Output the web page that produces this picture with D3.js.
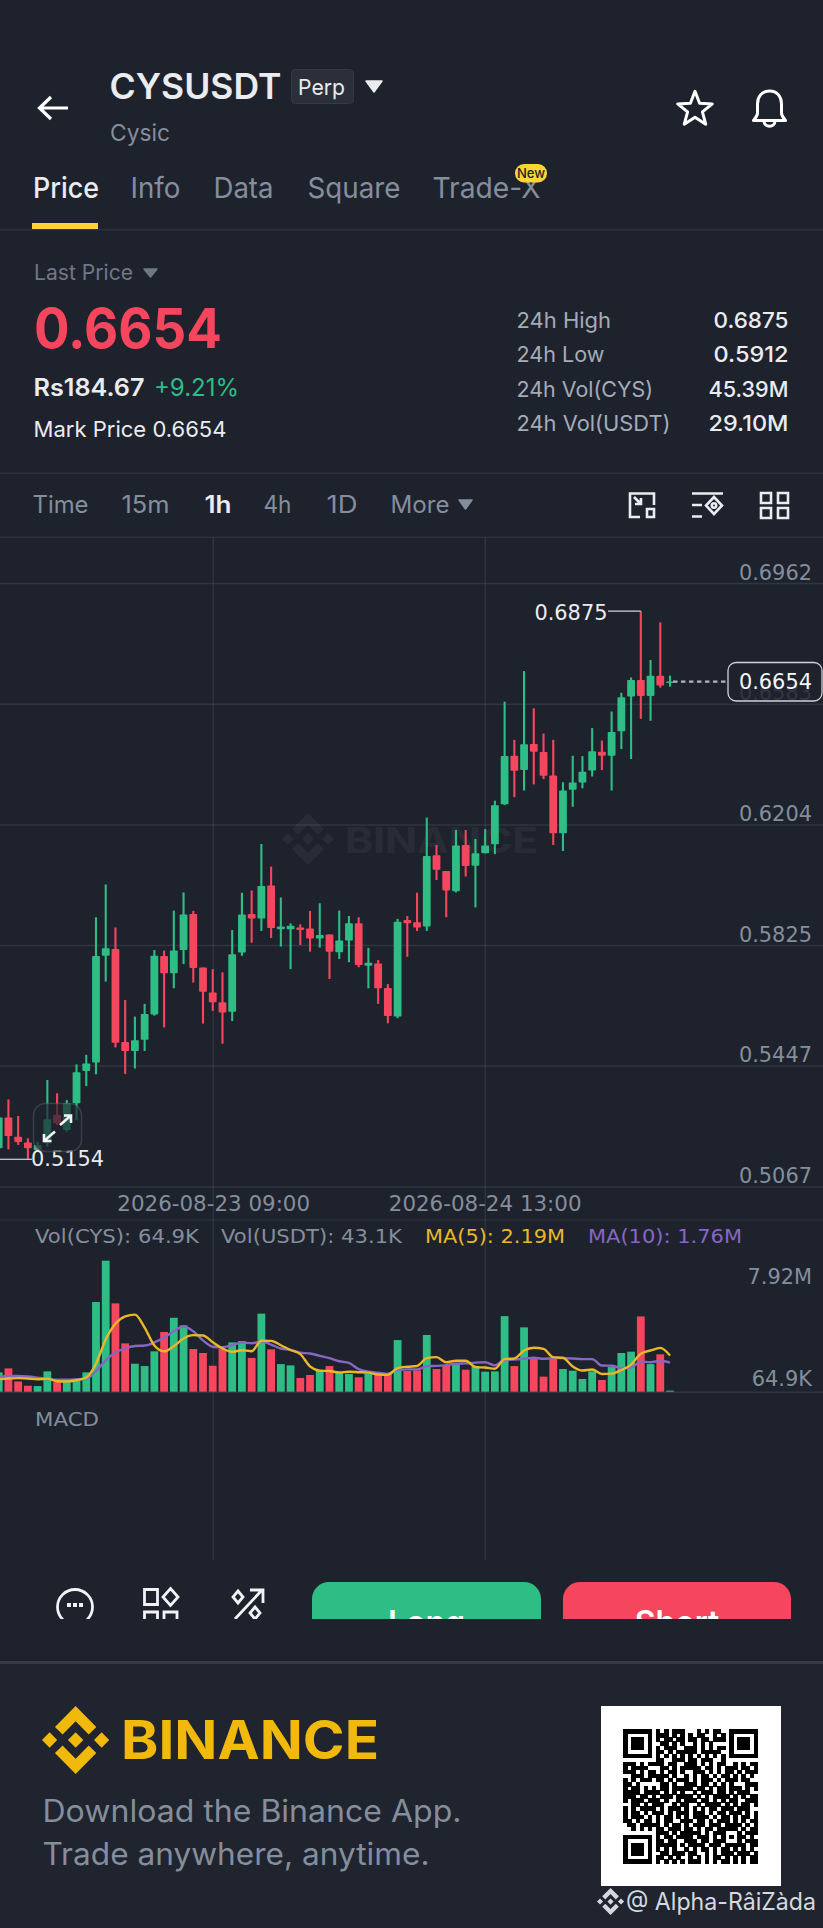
<!DOCTYPE html>
<html><head><meta charset="utf-8">
<script src="https://cdn.jsdelivr.net/npm/d3@7"></script>
<style>html,body{margin:0;padding:0;background:#1e222d;overflow:hidden}svg{display:block}</style>
</head><body><svg id="c" width="823" height="1928" viewBox="0 0 823 1928"></svg>
<script>
const opens=[.5189,.5285,.5225,.5207,.5183,.5204,.5293,.5246,.5330,.5431,.5458,.5793,.5814,.5522,.5494,.5529,.5609,.5792,.5738,.5811,.5924,.5756,.5678,.5647,.5617,.5803,.5924,.5910,.6014,.5876,.5876,.5882,.5879,.5847,.5860,.5804,.5841,.5895,.5762,.5769,.5692,.5602,.5905,.5898,.5885,.6109,.6059,.5996,.6141,.6076,.6115,.6143,.6269,.6421,.6376,.6458,.6433,.6359,.6178,.6314,.6337,.6375,.6434,.6421,.6498,.6607,.6659,.6609,.6672,.6650];
const closes=[.5285,.5227,.5208,.5189,.5199,.5280,.5267,.5330,.5427,.5455,.5792,.5817,.5520,.5494,.5528,.5610,.5793,.5738,.5810,.5923,.5755,.5680,.5647,.5615,.5798,.5923,.5910,.6012,.5880,.5885,.5887,.5874,.5847,.5858,.5806,.5841,.5895,.5764,.5771,.5691,.5604,.5900,.5895,.5882,.6106,.6063,.5998,.6139,.6075,.6115,.6139,.6266,.6420,.6374,.6457,.6434,.6358,.6178,.6312,.6337,.6371,.6435,.6421,.6496,.6605,.6659,.6609,.6672,.6642,.6654];
const highs=[.5319,.5342,.5290,.5220,.5209,.5403,.5361,.5340,.5452,.5482,.5914,.6017,.5882,.5654,.5602,.5642,.5811,.5809,.5935,.5992,.5934,.5756,.5751,.5741,.5874,.5991,.5998,.6144,.6073,.5976,.5895,.5892,.5934,.5958,.5860,.5935,.5918,.5914,.5818,.5780,.5704,.5909,.5918,.5991,.6227,.6141,.6059,.6188,.6188,.6160,.6191,.6280,.6591,.6471,.6687,.6570,.6491,.6471,.6338,.6421,.6420,.6508,.6469,.6560,.6619,.6667,.6875,.6722,.6840,.6673];
const lows=[.5183,.5185,.5199,.5154,.5178,.5194,.5262,.5241,.5277,.5384,.5421,.5712,.5505,.5422,.5439,.5494,.5605,.5568,.5691,.5767,.5709,.5580,.5620,.5517,.5588,.5793,.5834,.5871,.5849,.5822,.5751,.5827,.5806,.5819,.5720,.5783,.5773,.5757,.5691,.5642,.5581,.5597,.5790,.5871,.5871,.6031,.5914,.5992,.6042,.5945,.6115,.6112,.6266,.6291,.6312,.6331,.6348,.6141,.6122,.6261,.6319,.6356,.6376,.6312,.6442,.6411,.6537,.6531,.6635,.6638];
const volumes=[1.17,1.41,.62,.36,.34,1.23,.58,.58,.71,1.17,5.42,7.92,5.34,2.92,1.69,1.55,2.44,3.61,4.47,4.01,2.58,2.34,1.57,2.58,2.98,3.06,2.04,4.72,2.56,1.67,1.59,.83,1.01,1.27,1.55,1.15,1.07,.87,1.09,1.01,1.07,3.12,1.25,1.29,3.43,1.37,1.57,1.67,1.33,1.51,1.21,1.23,4.57,1.55,3.89,2.04,.91,2.06,1.37,1.27,.77,1.23,.71,1.49,2.34,2.42,4.55,1.67,2.26,.065];
const ma5=[.75,.80,.82,.80,.75,.79,.63,.62,.69,.85,1.69,3.16,4.11,4.55,4.66,3.88,2.79,2.44,2.75,3.22,3.42,3.40,2.99,2.62,2.41,2.51,2.45,3.08,3.07,2.81,2.52,2.27,1.53,1.27,1.25,1.16,1.21,1.18,1.15,1.04,1.02,1.43,1.51,1.55,2.03,2.09,1.78,1.87,1.87,1.49,1.46,1.39,1.97,2.01,2.49,2.66,2.59,2.09,2.05,1.53,1.28,1.34,1.07,1.09,1.31,1.64,2.30,2.49,2.65,2.19];
const ma10=[.90,.95,.95,.92,.85,.77,.72,.72,.75,.80,1.24,1.90,2.37,2.62,2.76,2.79,2.98,3.28,3.65,3.94,3.65,3.10,2.72,2.69,2.82,2.97,2.93,3.04,2.85,2.61,2.52,2.36,2.31,2.17,2.03,1.84,1.74,1.36,1.21,1.15,1.09,1.32,1.35,1.35,1.54,1.56,1.61,1.69,1.71,1.76,1.78,1.59,1.92,1.94,1.99,2.06,1.99,2.03,2.03,2.01,1.97,1.97,1.58,1.57,1.42,1.46,1.82,1.78,1.87,1.76];
const priceTicks=[.6962,.6583,.6204,.5825,.5447,.5067];
const timeTicks=[{i:22.1,t:"2026-08-23 09:00"},{i:50,t:"2026-08-24 13:00"}];
const qrRows=[
"#######.#.#.###...#.#.##..#######",
"#.....#.###.#.#.#.##..#.#.#.....#",
"#.###.#.#.##.##.##.##.###.#.###.#",
"#.###.#..##.#.#..#.#.#....#.###.#",
"#.###.#.#.###..###.#.#.##.#.###.#",
"#.....#.##.#.#####.#####..#.....#",
"#######.#.#.#.#.#.#.#.#.#.#######",
"........##..###.##.###..#........",
"###.#.####.##..###.#.#.##..#.#.##",
"#.####...##.#.#####.##.#.###.##.#",
"###.#.##.#.##.#..###.#.#.##.#.###",
"..###.#####.#..#.#.##.#.##.#.#.#.",
"#.#.###.##.#.###.#.###.#.###.##..",
"##.#.....##.#..###.##.#.#.#...###",
"#.##.#.#.##.#####.##.#.##.###.#.#",
"####.####.#.#.#..#.###.##.#.###..",
"###.##.#.###.####.#.#.####.#.#.##",
"#.###.###.#..#.###.##.#.#.##..###",
"..##.#.###..#.##..#.####.#.#.##.#",
"#.#.####.#.###.#.#.#.##.###.###..",
"#.##.#.###.#.###.###.#.##.###.#.#",
"#.###.#.#.##.#.#.####.#.##.#.##.#",
"##.#.##.#.##..###.##.#.###.#.#.##",
".##.#####.#.##.#.###.###.####.#.#",
"..#.#.#.##.###.##.#.##.#####.#.##",
"........###.#.#####.#.###...#.###",
"#######.#.##.####.###.#.#.#.##.#.",
"#.....#.##.##..###.##.###...#.###",
"#.###.#.#####.#.####.###.#####.##",
"#.###.#.#.#.#..#.#.##.#.##.#.#.#.",
"#.###.#..##.###.##..#.#.###.###.#",
"#.....#.##.#.#..#.#.#.##.#.#.#.##",
"#######.#.#.#.#.###.#.#.##.#.#.##"];

const UP="#2EBD85",DOWN="#F6465D",GREY="#848E9C",LIGHT="#EAECEF",YEL="#FCD535",MA5C="#E9B824",MA10C="#8766C4",GRID="rgba(255,255,255,.085)";
const UI="Inter, Roboto, sans-serif",CH="'DejaVu Sans', sans-serif";
const svg=d3.select("#c");
const defs=svg.append("defs");
defs.append("clipPath").attr("id","bar").append("rect").attr("x",0).attr("y",1540).attr("width",823).attr("height",79);
svg.append("rect").attr("width",823).attr("height",1928).attr("fill","#1e222d");
function T(g,x,y,s,o={}){
  const t=g.append("text").attr("x",x).attr("y",y).text(s).attr("font-family",o.f||UI).attr("font-size",o.s||22).attr("font-weight",o.w||400).attr("fill",o.c||GREY);
  if(o.a)t.attr("text-anchor",o.a);
  if(o.l)t.attr("textLength",o.l).attr("lengthAdjust","spacingAndGlyphs");
  return t;
}
function hline(g,y,c,h){g.append("rect").attr("x",0).attr("y",y).attr("width",823).attr("height",h||1.5).attr("fill",c||"#2b303a");}
function tri(g,x0,x1,y0,y1,c){g.append("path").attr("d",`M${x0},${y0}L${x1},${y0}L${(x0+x1)/2},${y1}Z`).attr("fill",c).attr("stroke",c).attr("stroke-linejoin","round").attr("stroke-width",1.5);}
const LOGO="M38.73 53.2l24.59-24.58 24.6 24.6 14.3-14.31L63.32 0 24.43 38.9z M0 63.31l14.3-14.31 14.31 14.31-14.31 14.3z M38.73 73.41l24.59 24.59 24.6-24.6 14.31 14.29-38.9 38.91-38.91-38.88-.02-.02z M98 63.31l14.3-14.31 14.31 14.3-14.31 14.32z M77.83 63.3L63.32 48.78 52.59 59.51l-1.24 1.23-2.54 2.54 14.51 14.5 14.51-14.47z";

/* header */
const h=svg.append("g");
h.append("path").attr("d","M68,108H40M51,97L39.5,108L51,119").attr("fill","none").attr("stroke","#fff").attr("stroke-width",3.2);
T(h,109.5,99,"CYSUSDT",{s:35,w:600,c:LIGHT,l:172});
h.append("rect").attr("x",291.5).attr("y",69.5).attr("width",62).attr("height",34).attr("rx",4).attr("fill","#2a2f39").attr("stroke","#343a45");
T(h,298,95,"Perp",{s:22,c:LIGHT,l:47});
tri(h,366,382,81,92,LIGHT);
T(h,110,140.5,"Cysic",{s:23,c:GREY,l:60});
h.append("path").attr("d",d3.range(10).map(k=>{const r=k%2?7.8:18.2,a=-Math.PI/2+k*Math.PI/5;return(k?"L":"M")+(695+r*Math.cos(a)).toFixed(1)+","+(109.5+r*Math.sin(a)).toFixed(1)}).join("")+"Z").attr("fill","none").attr("stroke","#fff").attr("stroke-width",3).attr("stroke-linejoin","round");
h.append("path").attr("d","M769.5,91c-8,0-12,6-12,13v9c0,3-2,5-4,7.500h32c-2-2.500-4-4.500-4-7.500v-9c0-7-4-13-12-13ZM764,121c0,7,11,7,11,0").attr("fill","none").attr("stroke","#fff").attr("stroke-width",3).attr("stroke-linejoin","round");
[["Price",33,66,LIGHT,500],["Info",130.5,50,GREY,400],["Data",213.5,60,GREY,400],["Square",307.5,93,GREY,400],["Trade-X",432.500,108,GREY,400]].forEach(d=>T(h,d[1],198,d[0],{s:29,w:d[4],c:d[3],l:d[2]}));
h.append("rect").attr("x",515).attr("y",164).attr("width",32).attr("height",18.5).attr("rx",9).attr("fill",YEL);
T(h,531,177.5,"New",{s:13,w:500,c:"#1e222d",a:"middle"});
h.append("rect").attr("x",32).attr("y",223).attr("width",66).attr("height",6).attr("fill",YEL);
hline(h,229);
T(h,34,279.5,"Last Price",{s:21,c:"#6f7886",l:99});
tri(h,144,157,269,277,"#6f7886");
T(h,34,348,"0.6654",{s:55,w:700,c:DOWN,l:188});
T(h,33.5,396,"Rs184.67",{s:24,w:600,c:LIGHT,l:111});
T(h,154,396,"+9.21%",{s:24,c:UP,l:85});
T(h,33.5,437,"Mark Price 0.6654",{s:22,c:LIGHT,l:193});
[["24h High",328,94.500,"0.6875",75],["24h Low",362,88,"0.5912",75],["24h Vol(CYS)",397,136.500,"45.39M",80],["24h Vol(USDT)",431,154,"29.10M",80]].forEach(d=>{
  T(h,516.5,d[1],d[0],{s:22,c:"#A4ACB8",l:d[2]});
  T(h,788.5-d[4],d[1],d[3],{s:22,w:500,c:LIGHT,l:d[4]});
});
hline(h,472.5);
[["Time",32.5,56,GREY,400],["15m",121.5,48,GREY,400],["1h",204.5,27,LIGHT,600],["4h",263.5,28,GREY,400],["1D",326.5,31,GREY,400],["More",390.5,59,GREY,400]].forEach(d=>T(h,d[1],513,d[0],{s:24,w:d[4],c:d[3],l:d[2]}));
tri(h,459,472,500,509,GREY);
const ic=h.append("g").attr("fill","none").attr("stroke","#EAECEF").attr("stroke-width",2.6);
ic.append("path").attr("d","M630,505V493.500H654V505M630,505V517H640M647,509H654V517H647ZM634,497L641,504M641,498V504H635");
ic.append("path").attr("d","M692,493.500H723M692,505H702M692,516.500H702M714,497L722,505.500L714,514L706,505.500Z");
ic.append("circle").attr("cx",714).attr("cy",505.500).attr("r",2.2);
ic.append("path").attr("d","M761,493h10v10h-10ZM778,493h10v10h-10ZM761,508h10v10h-10ZM778,508h10v10h-10Z");
hline(h,536.5);

/* scales */
const x=d3.scaleLinear().domain([0,69]).range([-1.3,670]);
const y=d3.scaleLinear().domain([.5067,.6962]).range([1187,583.5]);
const yv=d3.scaleLinear().domain([0,7.92]).range([1391.7,1260.7]);
const idx=d3.range(opens.length);

/* grid */
const g=svg.append("g");
priceTicks.forEach(p=>g.append("line").attr("x1",0).attr("x2",823).attr("y1",y(p)).attr("y2",y(p)).attr("stroke",GRID).attr("stroke-width",1.5));
[213.3,485.3].forEach(v=>g.append("line").attr("x1",v).attr("x2",v).attr("y1",537).attr("y2",1560).attr("stroke",GRID).attr("stroke-width",1.3));
g.append("line").attr("x1",0).attr("x2",823).attr("y1",1220).attr("y2",1220).attr("stroke",GRID).attr("stroke-width",1.2);
g.append("line").attr("x1",0).attr("x2",823).attr("y1",yv(0)+.5).attr("y2",yv(0)+.5).attr("stroke",GRID).attr("stroke-width",1.5);

/* watermark */
const w=svg.append("g").attr("opacity",.045);
w.append("path").attr("d",LOGO).attr("fill","#fff").attr("transform","translate(282,813) scale(.41)");
T(w,345,853,"BINANCE",{s:35,w:700,c:"#fff",l:193});

/* price labels */
priceTicks.forEach(p=>T(g,812,y(p)-4,p.toFixed(4),{f:CH,s:20.900,c:GREY,a:"end"}));

/* candles */
const cg=svg.append("g");
cg.selectAll("line").data(idx).join("line")
 .attr("x1",i=>x(i)).attr("x2",i=>x(i)).attr("y1",i=>y(highs[i])).attr("y2",i=>y(lows[i]))
 .attr("stroke",i=>closes[i]>=opens[i]?UP:DOWN).attr("stroke-width",2.1);
cg.selectAll("rect").data(idx).join("rect")
 .attr("x",i=>x(i)-3.9).attr("width",7.8).attr("rx",.8)
 .attr("y",i=>y(Math.max(opens[i],closes[i])))
 .attr("height",i=>Math.max(1.5,Math.abs(y(opens[i])-y(closes[i]))))
 .attr("fill",i=>closes[i]>=opens[i]?UP:DOWN);

/* high / low annotations */
const a=svg.append("g");
a.append("line").attr("x1",608).attr("x2",x(66)).attr("y1",y(.6875)).attr("y2",y(.6875)).attr("stroke","#cfd3da").attr("stroke-width",1.2);
T(a,607.5,620,"0.6875",{f:CH,s:20.900,c:LIGHT,a:"end"});
a.append("line").attr("x1",0).attr("x2",32).attr("y1",y(.5154)).attr("y2",y(.5154)).attr("stroke","#cfd3da").attr("stroke-width",1.2);
T(a,31,1166,"0.5154",{f:CH,s:20.900,c:LIGHT});

/* last price */
a.append("line").attr("x1",673).attr("x2",727).attr("y1",y(.6654)).attr("y2",y(.6654)).attr("stroke","#AEB4BE").attr("stroke-width",2.2).attr("stroke-dasharray","4.500 3.500");
a.append("rect").attr("x",728).attr("y",662.500).attr("width",94).attr("height",38.500).attr("rx",8).attr("fill","#1e222d").attr("fill-opacity",.82).attr("stroke","#CFD3DA").attr("stroke-width",1.3);
T(a,812,689,"0.6654",{f:CH,s:20.900,c:"#F5F6F7",a:"end"});

/* time labels */
timeTicks.forEach(d=>T(g,x(d.i),1211,d.t,{f:CH,s:21.400,c:GREY,a:"middle"}));

/* expand button */
const b=svg.append("g");
b.append("rect").attr("x",33.500).attr("y",1103.500).attr("width",48).attr("height",48).attr("rx",12).attr("fill","#1e222d").attr("fill-opacity",.68).attr("stroke","#5c6470").attr("stroke-opacity",.45).attr("stroke-width",1.5);
b.append("path").attr("d","M44,1141L55,1131.500M44,1134V1141H51.500M60,1125L71,1115.500M64,1115.500H71V1123").attr("fill","none").attr("stroke","#F2F3F5").attr("stroke-width",2.6);

/* volume legend */
const LEG={f:CH,s:19.500};
T(g,35,1243,"Vol(CYS): 64.9K",{...LEG,c:GREY,l:164});
T(g,221,1243,"Vol(USDT): 43.1K",{...LEG,c:GREY,l:181});
T(g,425,1243,"MA(5): 2.19M",{...LEG,c:MA5C,l:140});
T(g,588,1243,"MA(10): 1.76M",{...LEG,c:MA10C,l:154});
T(g,812,1284,"7.92M",{f:CH,s:20.900,c:GREY,a:"end"});
T(g,812,1385.500,"64.9K",{f:CH,s:20.900,c:GREY,a:"end"});
T(g,35,1426,"MACD",{f:CH,s:19.500,c:GREY,l:64});

/* volume bars */
const vb=svg.append("g");
vb.selectAll("rect").data(idx).join("rect")
 .attr("x",i=>x(i)-3.9).attr("width",7.8)
 .attr("y",i=>yv(volumes[i])).attr("height",i=>yv(0)-yv(volumes[i]))
 .attr("fill",i=>closes[i]>=opens[i]?UP:DOWN);
const line=s=>d3.line().x((d,i)=>x(i)).y(d=>yv(d)).curve(d3.curveMonotoneX)(s);
vb.append("path").attr("d",line(ma10)).attr("fill","none").attr("stroke",MA10C).attr("stroke-width",2.4);
vb.append("path").attr("d",line(ma5)).attr("fill","none").attr("stroke",MA5C).attr("stroke-width",2.4);

/* bottom bar, cropped by the screenshot */
const bb=svg.append("g").attr("clip-path","url(#bar)");
bb.append("rect").attr("x",0).attr("y",1566).attr("width",823).attr("height",60).attr("fill","#1e222d");
const st=bb.append("g").attr("fill","none").attr("stroke","#F2F3F5").attr("stroke-width",2.8);
st.append("circle").attr("cx",75).attr("cy",1607).attr("r",17.500);
bb.append("g").attr("fill","#F2F3F5").selectAll("rect").data([-6,0,6]).join("rect").attr("x",d=>73+d).attr("y",1603).attr("width",4).attr("height",4);
st.append("path").attr("d","M144.500,1589.500h13v15h-13ZM170.500,1588.500l7.500,8.500l-7.500,8.500l-7.500,-8.500ZM144.500,1612h13v15h-13ZM164,1612h13v15h-13Z");
st.append("path").attr("d","M235,1619L262,1590M250,1590H263V1603M238,1591l5,6l-5,6l-5,-6ZM255,1607l5,6l-5,6l-5,-6Z");
bb.append("rect").attr("x",312).attr("y",1582).attr("width",229).attr("height",60).attr("rx",17).attr("fill",UP);
bb.append("rect").attr("x",563).attr("y",1582).attr("width",228).attr("height",60).attr("rx",17).attr("fill",DOWN);
T(bb,426.5,1634,"Long",{s:32,w:600,c:"#fff",a:"middle"});
T(bb,677,1634,"Short",{s:32,w:600,c:"#fff",a:"middle"});

/* footer */
const f=svg.append("g");
f.append("rect").attr("x",0).attr("y",1661).attr("width",823).attr("height",267).attr("fill","#1f242e");
f.append("rect").attr("x",0).attr("y",1661).attr("width",823).attr("height",3).attr("fill","#363b46");
f.append("path").attr("d",LOGO).attr("fill","#F0B90B").attr("transform","translate(42,1706) scale(.531,.537)");
T(f,121,1759,"BINANCE",{s:53,w:700,c:"#F0B90B",l:258});
T(f,42.5,1822,"Download the Binance App.",{s:31,c:GREY,l:419});
T(f,42.5,1865,"Trade anywhere, anytime.",{s:31,c:GREY,l:387});
f.append("rect").attr("x",601).attr("y",1706).attr("width",180).attr("height",180).attr("fill","#fff");
const qx=d3.scaleBand().domain(d3.range(33)).range([623.3,757.7]);
const qy=d3.scaleBand().domain(d3.range(33)).range([1729.3,1863.3]);
const cells=[];qrRows.forEach((r,ri)=>[...r].forEach((c,ci)=>{if(c==="#")cells.push([ci,ri]);}));
f.append("g").attr("fill","#000").attr("shape-rendering","crispEdges").selectAll("rect").data(cells).join("rect")
 .attr("x",d=>qx(d[0])).attr("y",d=>qy(d[1])).attr("width",qx.bandwidth()+.4).attr("height",qy.bandwidth()+.4);
f.append("path").attr("d",LOGO).attr("fill","#D5D8DE").attr("transform","translate(597,1888) scale(.214)");
T(f,626,1910,"@ Alpha-RâiZàda",{s:24,c:"#D5D8DE",l:190});
</script></body></html>
